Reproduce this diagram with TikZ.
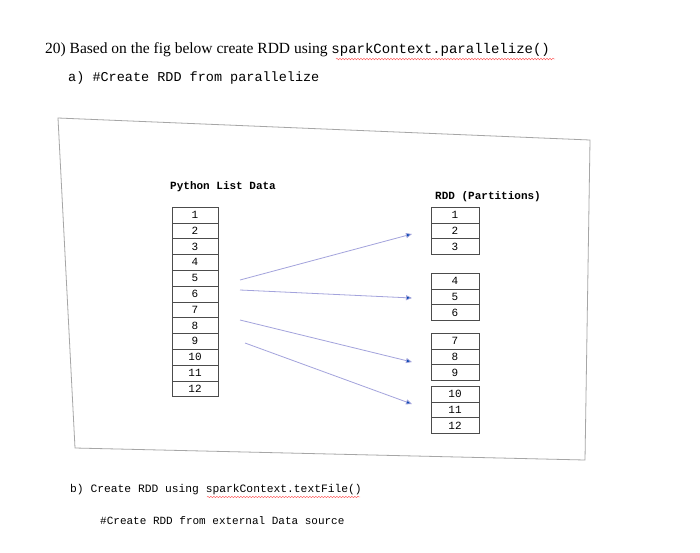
\documentclass[tikz,border=0pt]{standalone}
\usepackage{fontspec}
\setmainfont{Liberation Serif}
\setmonofont{Liberation Mono}
\usetikzlibrary{decorations.pathmorphing,arrows.meta}
\begin{document}
\begin{tikzpicture}[x=1pt,y=-1pt,
  cell/.style={draw=black!70,minimum width=46pt,minimum height=15.8pt,inner sep=0pt,font=\fontsize{11}{11}\selectfont\ttfamily},
  conn/.style={draw=gray!55!blue!50,line width=0.8pt,-{Triangle[length=6pt,width=5pt,fill=blue!60!cyan!70!black]}},
  mono/.style={font=\ttfamily,anchor=west,inner sep=0pt}]
\useasboundingbox (0,0) rectangle (700,552);
\fill[white] (0,0) rectangle (700,552);
\node[anchor=west,inner sep=0pt,font=\fontsize{15.5}{15}\selectfont] (title) at (45,50)
  {20) Based on the fig below create RDD using {\fontsize{14}{14}\selectfont\ttfamily sparkContext.parallelize()}};
\draw[red!70,decorate,decoration={snake,amplitude=0.8pt,segment length=3pt}] (336,59) -- (555,59);
\node[mono,font=\fontsize{13.5}{12}\selectfont\ttfamily] (a) at (68,78) {a) \#Create RDD from parallelize};
\draw[gray!70,line width=0.8pt] (58,118) -- (590,140) -- (585,460) -- (75,448) -- cycle;
\node[mono,font=\fontsize{11}{10}\selectfont\ttfamily\bfseries] (pl) at (170,187) {Python List Data};
\node[mono,font=\fontsize{11}{10}\selectfont\ttfamily\bfseries] (rl) at (435,197) {RDD (Partitions)};
\foreach \i in {1,...,12}{
  \node[cell] (L\i) at (195,{207+7.9+15.8*(\i-1)}) {\i};
}
\foreach \g/\y in {0/207,1/273,2/333,3/386}{
  \foreach \k in {1,2,3}{
    \pgfmathtruncatemacro{\n}{3*\g+\k}
    \node[cell,minimum width=48pt] (R\n) at (455,{\y+7.9+15.8*(\k-1)}) {\n};
  }
}
\coordinate (s1) at (240,280); \coordinate (t1) at (412,234);
\coordinate (s2) at (240,290); \coordinate (t2) at (412,298);
\coordinate (s3) at (240,320); \coordinate (t3) at (412,362);
\coordinate (s4) at (245,343); \coordinate (t4) at (412,404);
\foreach \i in {1,...,4}{\draw[conn] (s\i) -- (t\i);}
\node[mono,font=\fontsize{11.3}{10}\selectfont\ttfamily] (b) at (70,490) {b) Create RDD using sparkContext.textFile()};
\draw[red!70,decorate,decoration={snake,amplitude=0.7pt,segment length=3pt}] (207,497) -- (360,497);
\node[mono,font=\fontsize{11}{10}\selectfont\ttfamily] (c) at (100,521) {\#Create RDD from external Data source};
\end{tikzpicture}
\end{document}
